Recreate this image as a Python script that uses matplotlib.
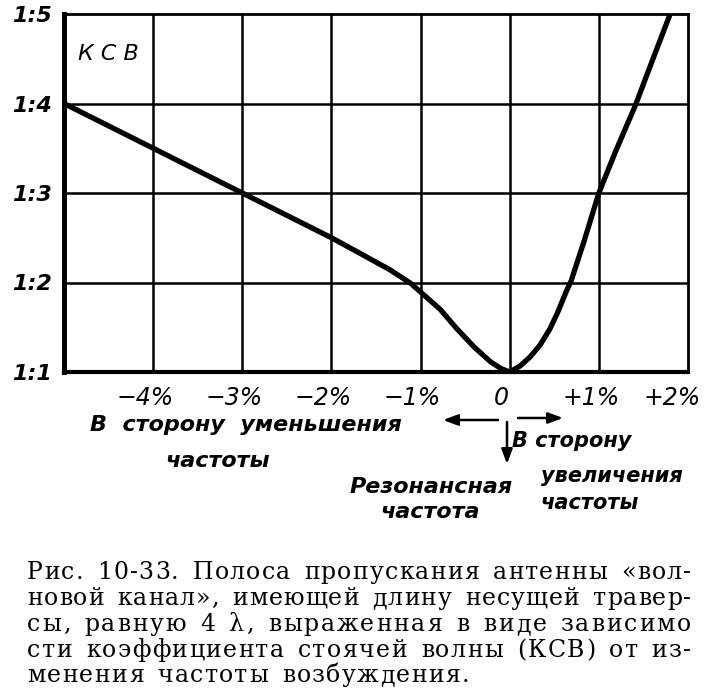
import matplotlib
matplotlib.use("Agg")
import matplotlib.pyplot as plt
import matplotlib.transforms as mtransforms
from matplotlib.patches import FancyArrowPatch

# detuning from resonance, %  and the SWR
detune = [-5.0, -4.0, -3.0, -2.0, -1.65, -1.34, -1.11, -0.95, -0.78, -0.59,
          -0.40, -0.21, -0.10, 0.0, 0.12, 0.23, 0.34, 0.45, 0.54, 0.63,
          0.69, 0.84, 1.0, 1.19, 1.41, 1.60, 1.80]
swr = [4.0, 3.5, 3.0, 2.5, 2.31, 2.14, 1.99, 1.85, 1.70, 1.48,
       1.28, 1.11, 1.04, 1.0, 1.07, 1.17, 1.30, 1.48, 1.67, 1.89,
       2.02, 2.48, 3.0, 3.47, 3.98, 4.48, 5.0]

x_ticks = [-4, -3, -2, -1, 0, 1, 2]
x_labels = ["\u22124%", "\u22123%", "\u22122%", "\u22121%", "0", "+1%", "+2%"]
y_ticks = [1, 2, 3, 4, 5]
y_labels = ["1:1", "1:2", "1:3", "1:4", "1:5"]

caption = [
    "Рис. 10-33. Полоса пропускания антенны «вол-",
    "новой канал», имеющей длину несущей травер-",
    "сы, равную 4 λ, выраженная в виде зависимо",
    "сти коэффициента стоячей волны (КСВ) от из-",
    "менения частоты возбуждения.",
]

W, H = 708, 696
fig = plt.figure(figsize=(W / 100, H / 100), dpi=100)
ax = fig.add_axes([64 / W, 1 - 372 / H, (688 - 64) / W, (372 - 14) / H])

ax.set_xlim(-5, 2)
ax.set_ylim(1, 5)
for xv in x_ticks[:-1]:
    ax.axvline(xv, color="black", lw=1.8, zorder=1)
for yv in y_ticks[1:-1]:
    ax.axhline(yv, color="black", lw=1.8, zorder=1)

ax.plot(detune, swr, color="black", lw=3.8, solid_capstyle="round",
        solid_joinstyle="round", zorder=3)

for side, w in [("left", 3.6), ("bottom", 3.0), ("top", 2.0), ("right", 2.0)]:
    ax.spines[side].set_linewidth(w)
    ax.spines[side].set_color("black")

ax.set_xticks(x_ticks)
ax.set_xticklabels(x_labels, fontsize=17, style="italic")
ax.set_yticks(y_ticks)
ax.set_yticklabels(y_labels, fontsize=16, style="italic", fontweight="bold")
ax.tick_params(axis="both", length=0)
ax.tick_params(axis="x", pad=10)
ax.tick_params(axis="y", pad=9)

# labels sit a little left of their grid lines
for i, lab in enumerate(ax.get_xticklabels()):
    dx = -0.16 if i == len(x_labels) - 1 else -0.08
    lab.set_transform(lab.get_transform() +
                      mtransforms.ScaledTranslation(dx, 0, fig.dpi_scale_trans))

ax.text(0.022, 0.888, "К С В", transform=ax.transAxes, fontsize=16,
        style="italic", ha="left", va="center")


def px(x, y):
    return x / W, 1 - y / H


hand = dict(fontsize=16, style="italic", fontweight="bold", color="black")
fig.text(*px(90, 425), "В  сторону  уменьшения", ha="left", va="center", **hand)
fig.text(*px(218, 461), "частоты", ha="center", va="center", **hand)
fig.text(*px(513, 487), "Резонансная", ha="right", va="center", **hand)
fig.text(*px(430, 512), "частота", ha="center", va="center", **hand)
right_hand = dict(hand, fontsize=15)
fig.text(*px(512, 441), "В сторону", ha="left", va="center", **right_hand)
fig.text(*px(541, 476), "увеличения", ha="left", va="center", **right_hand)
fig.text(*px(540, 503), "частоты", ha="left", va="center", **right_hand)

arrow = dict(arrowstyle="-|>,head_length=0.8,head_width=0.3", color="black",
             lw=1.8, mutation_scale=11, transform=fig.transFigure,
             shrinkA=0, shrinkB=0)
fig.add_artist(FancyArrowPatch(px(498, 420), px(443, 420), **arrow))
fig.add_artist(FancyArrowPatch(px(518, 418), px(563, 418), **arrow))
fig.add_artist(FancyArrowPatch(px(507, 422), px(507, 464), **arrow))

# justified caption, set letter by letter
cap_font = dict(fontsize=17, family="DejaVu Serif", color="black",
                va="baseline", ha="left")
left, right = 27, 691
baselines = [579, 605, 631, 657, 682]
word_gap = 14
fig.canvas.draw()
rend = fig.canvas.get_renderer()
tracks = []
for i, line in enumerate(caption):
    yb = 1 - baselines[i] / H
    words = []
    for wd in line.split(" "):
        chars = [fig.text(0, yb, ch, **cap_font) for ch in wd]
        words.append([(t, t.get_window_extent(rend).width) for t in chars])
    ink = sum(w for g in words for _, w in g)
    n_inner = sum(len(g) - 1 for g in words)
    n_gaps = len(words) - 1
    if i < len(caption) - 1:
        track = (right - left - ink - n_gaps * word_gap) / n_inner
        track = min(max(track, 0.5), 5.0)
        tracks.append(track)
        gap = (right - left - ink - n_inner * track) / n_gaps
    else:
        track = sum(tracks) / len(tracks)
        gap = word_gap
    xpos = left
    for g in words:
        for t, w in g:
            t.set_x(xpos / W)
            xpos += w + track
        xpos += gap - track

fig.savefig("out.png", dpi=100, facecolor="white")
